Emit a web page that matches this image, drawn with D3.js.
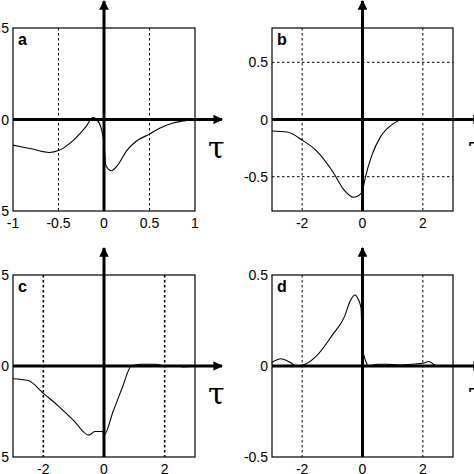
<!DOCTYPE html>
<html><head><meta charset="utf-8">
<script src="https://cdn.jsdelivr.net/npm/d3@7"></script>
<style>body{margin:0;background:#fff}svg{display:block;font-family:"Liberation Sans",Arial,sans-serif}</style>
</head><body><div id="chart"></div>
<script>
// panel data: [tau, value]
const seriesA = [[-1,-0.14],[-0.8,-0.16],[-0.6,-0.18],[-0.5,-0.17],[-0.35,-0.12],[-0.2,-0.04],[-0.12,0.01],[-0.08,0.0],[-0.03,-0.05],[0,-0.13],[0.02,-0.25],[0.08,-0.28],[0.15,-0.25],[0.25,-0.17],[0.35,-0.12],[0.5,-0.08],[0.6,-0.05],[0.75,-0.02],[0.85,-0.01],[1,0]];
const seriesB = [[-3,-0.1],[-2.5,-0.11],[-2,-0.18],[-1.5,-0.28],[-1,-0.45],[-0.6,-0.62],[-0.3,-0.68],[-0.1,-0.66],[0,-0.62],[0.1,-0.5],[0.3,-0.32],[0.6,-0.15],[1,-0.04],[1.4,0],[3,0]];
const seriesC = [[-3,-0.07],[-2.5,-0.08],[-2,-0.15],[-1.5,-0.22],[-1,-0.3],[-0.5,-0.38],[-0.3,-0.36],[-0.05,-0.36],[0,-0.38],[0.3,-0.25],[0.6,-0.12],[0.9,0],[1.2,0.01],[1.7,0.01],[2,0],[2.4,0],[2.6,-0.005],[3,0]];
const seriesD = [[-3,0.02],[-2.7,0.04],[-2.4,0.02],[-2.2,0],[-1.9,0.01],[-1.5,0.06],[-1,0.17],[-0.6,0.27],[-0.4,0.36],[-0.25,0.39],[-0.15,0.37],[-0.05,0.32],[0,0.1],[0.1,0.03],[0.2,0],[0.5,0.01],[0.8,0.01],[1.2,0.005],[1.6,0.01],[2,0.015],[2.2,0.025],[2.4,0.005],[2.5,0]];

const panels = [
  {label:"a", data:seriesA, xDom:[-1,1], yDom:[-0.5,0.5], xTicks:[-1,-0.5,0,0.5,1], yTicks:[-0.5,0,0.5], xGrid:[-0.5,0.5], yGrid:[], gridW:1, box:[13,28,195,211], arrowTop:0, arrowRight:222},
  {label:"b", data:seriesB, xDom:[-3,3], yDom:[-0.8,0.8], xTicks:[-2,0,2], yTicks:[-0.5,0,0.5], xGrid:[-2,2], yGrid:[-0.5,0.5], gridW:1, box:[272,28,453,211], arrowTop:0, arrowRight:482},
  {label:"c", data:seriesC, xDom:[-3,3], yDom:[-0.5,0.5], xTicks:[-2,0,2], yTicks:[-0.5,0,0.5], xGrid:[-2,2], yGrid:[], gridW:1.6, box:[13,275,195,457], arrowTop:247, arrowRight:222},
  {label:"d", data:seriesD, xDom:[-3,3], yDom:[-0.5,0.5], xTicks:[-2,0,2], yTicks:[-0.5,0,0.5], xGrid:[-2,2], yGrid:[], gridW:1, box:[272,275,453,457], arrowTop:247, arrowRight:482}
];

const svg = d3.select("#chart").append("svg").attr("width",474).attr("height",474);
svg.append("defs").append("marker").attr("id","arr").attr("viewBox","0 0 10 10").attr("refX",9).attr("refY",5)
  .attr("markerWidth",3.2).attr("markerHeight",3.2).attr("orient","auto")
  .append("path").attr("d","M0,0L10,5L0,10Z").attr("fill","#000");

const fmt = (d) => d === 0 ? "0" : String(d);

panels.forEach((p) => {
  const [l,t,r,b] = p.box;
  const x = d3.scaleLinear().domain(p.xDom).range([l,r]);
  const y = d3.scaleLinear().domain(p.yDom).range([b,t]);
  const g = svg.append("g");

  g.selectAll("line.vg").data(p.xGrid).join("line")
    .attr("x1",x).attr("x2",x).attr("y1",t).attr("y2",b)
    .attr("stroke","#000").attr("stroke-width",p.gridW).attr("stroke-dasharray","2.5 2.5");
  g.selectAll("line.hg").data(p.yGrid).join("line")
    .attr("y1",y).attr("y2",y).attr("x1",l).attr("x2",r)
    .attr("stroke","#000").attr("stroke-width",1).attr("stroke-dasharray","2.5 2.5");

  g.append("rect").attr("x",l).attr("y",t).attr("width",r-l).attr("height",b-t)
    .attr("fill","none").attr("stroke","#000").attr("stroke-width",1.2);

  g.selectAll("text.xt").data(p.xTicks).join("text")
    .attr("x",x).attr("y",b+17).attr("text-anchor","middle")
    .attr("font-size",14).text(fmt);
  g.selectAll("text.yt").data(p.yTicks).join("text")
    .attr("x",l-4).attr("y",(d)=>y(d)+5).attr("text-anchor","end")
    .attr("font-size",14).text(fmt);

  g.append("path").datum(p.data)
    .attr("d", d3.line().x((d)=>x(d[0])).y((d)=>y(d[1])).curve(d3.curveMonotoneX))
    .attr("fill","none").attr("stroke","#000").attr("stroke-width",1.1);

  // axes arrows
  g.append("line").attr("x1",x(0)).attr("x2",x(0)).attr("y1",b).attr("y2",p.arrowTop+1)
    .attr("stroke","#000").attr("stroke-width",3).attr("marker-end","url(#arr)");
  g.append("line").attr("x1",l).attr("x2",p.arrowRight).attr("y1",y(0)).attr("y2",y(0))
    .attr("stroke","#000").attr("stroke-width",3).attr("marker-end","url(#arr)");

  g.append("text").attr("x",p.arrowRight-14).attr("y",y(0)+38)
    .attr("font-family","'DejaVu Serif',serif").attr("font-size",30).text("τ");

  g.append("text").attr("x",l+5).attr("y",t+17).attr("font-weight","bold")
    .attr("font-size",16).text(p.label);
});
</script></body></html>
